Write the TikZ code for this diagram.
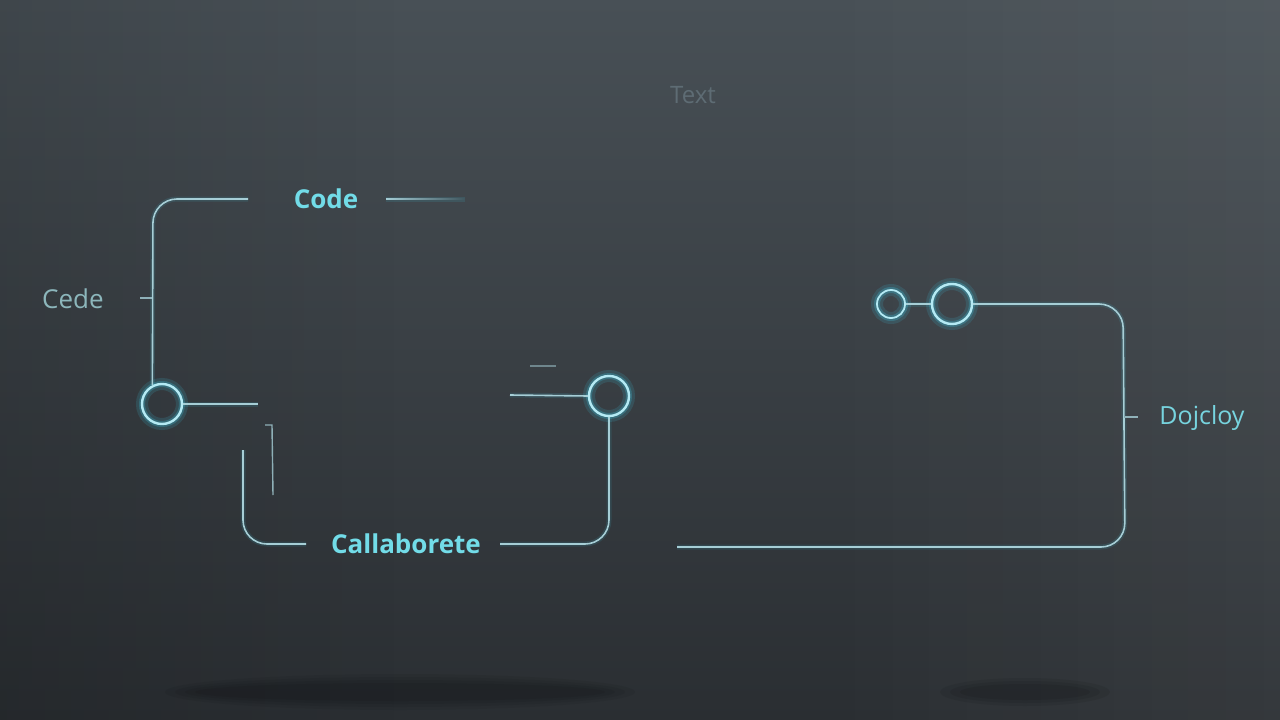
\documentclass[tikz,border=0pt]{standalone}
\usepackage{fontspec}
\setmainfont{Open Sans}
\usepackage{tikz}
\usetikzlibrary{positioning, calc, fadings}
\definecolor{bgtop}{HTML}{485056}
\definecolor{bgbot}{HTML}{2A2E32}
\definecolor{wire}{HTML}{A6CED6}
\definecolor{halo}{HTML}{3CC8E4}
\definecolor{ring}{HTML}{DDF6FA}
\definecolor{lbl}{HTML}{72DCE8}
\definecolor{dim}{HTML}{8CB6BB}
\definecolor{faint}{HTML}{5E6C74}
\tikzstyle{wireline} = [draw=wire, line width=1.6pt, rounded corners=24pt, preaction={draw=halo, line width=5pt, opacity=0.12}]
\tikzstyle{stub} = [draw=wire, line width=1.4pt, opacity=0.8]
\tikzset{
	hub/.style = {circle, draw=ring, line width=2.4pt, minimum size=#1, inner sep=0pt,
		preaction={draw=halo, line width=12pt, opacity=0.15},
		postaction={draw=halo, line width=6pt, opacity=0.25}
	},
	hub/.default = 40pt
}
\tikzstyle{label} = [font=\fontsize{26}{30}\selectfont\bfseries, text=lbl, inner sep=2pt]
\tikzstyle{plain} = [font=\fontsize{26}{30}\selectfont, text=dim, inner sep=2pt]

\begin{document}
\begin{tikzpicture}[x=1pt, y=-1pt]
%----------------------------------------------------------------------------
% Background
\useasboundingbox (0,0) rectangle (1280,720);
\shade [top color=bgtop, bottom color=bgbot] (0,0) rectangle (1280,720);
\fill [black, opacity=0.12, path fading=east] (0,0) rectangle (400,720);
\fill [white, opacity=0.05, path fading=west] (800,0) rectangle (1280,720);
\foreach \w/\h in {235/18, 225/15, 215/12, 205/9}{
	\fill [black, opacity=0.06] (400,692) ellipse ({\w pt} and {\h pt});
}
\foreach \w/\h in {85/14, 75/11, 65/8}{
	\fill [black, opacity=0.07] (1025,692) ellipse ({\w pt} and {\h pt});
}

%----------------------------------------------------------------------------
% Placement of nodes
\node (title) [plain, text=faint, font=\fontsize{24}{28}\selectfont] at (693,95) {Text};
\node (code) [label] at (326,199) {Code};
\node (cede) [plain] at (73,299) {Cede};
\node (collab) [label] at (406,544) {Callaborete};
\node (deploy) [plain, text=lbl!80!dim, font=\fontsize{25}{30}\selectfont] at (1202,418) {Dojcloy};

\node (hubA) [hub] at (162,404) {};
\node (hubB) [hub] at (609,396) {};
\node (hubC) [hub, minimum size=28pt, line width=1.8pt] at (891,304) {};
\node (hubD) [hub] at (952,304) {};

\coordinate (codeL) at (248,199);
\coordinate (codeR) at (386,199);
\coordinate (codeEnd) at (465,199);
\coordinate (tickA) at (140,298);
\coordinate (hubAend) at (258,404);
\coordinate (hubBstart) at (510,395);
\coordinate (dashL) at (530,366);
\coordinate (dashR) at (556,366);
\coordinate (barTop) at (272,425);
\coordinate (barBot) at (273,495);
\coordinate (loopTop) at (243,450);
\coordinate (collabL) at (306,544);
\coordinate (collabR) at (500,544);
\coordinate (baseL) at (677,547);
\coordinate (tickD) at (1138,417);

%----------------------------------------------------------------------------
% Lines
\draw [wireline] (codeL) -- (153,199) -- (hubA.117);
\draw [stub] (tickA) -- (153,298);
\draw [wireline, path fading=east] (codeR) -- (codeEnd);
\draw [wireline] (hubA.east) -- (hubAend);
\draw [stub] (265,425) -- (barTop) -- (barBot);
\draw [wireline] (loopTop) -- (243,544) -- (collabL);
\draw [wireline] (collabR) -- (609,544) -- (hubB.south);
\draw [wireline] (hubBstart) -- (hubB.west);
\draw [stub, opacity=0.5] (dashL) -- (dashR);

\draw [wireline] (hubC.east) -- (hubD.west);
\draw [wireline] (hubD.east) -- (1123,304) -- (1125,547) -- (baseL);
\draw [stub] (1125,417) -- (tickD);

\end{tikzpicture}
\end{document}
